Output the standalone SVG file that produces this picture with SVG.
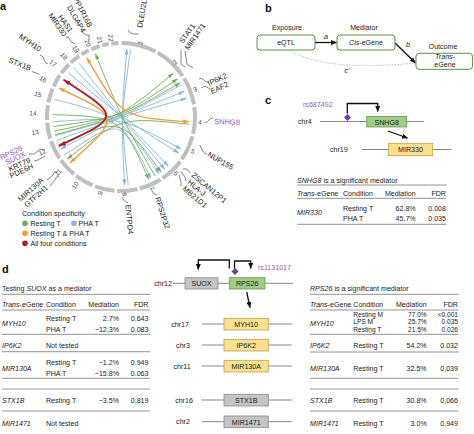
<svg xmlns="http://www.w3.org/2000/svg" width="474" height="434" viewBox="0 0 474 434">
<style>
text{font-family:"Liberation Sans",Arial,sans-serif;fill:#222}
.pl{font-size:11px;font-weight:bold;fill:#111}
.g{font-size:7.5px}
.n{font-size:6.5px;fill:#444;text-anchor:middle;dominant-baseline:central}
.tb{font-size:7.1px}
.sm{font-size:6.6px}
.it{font-style:italic}
.pu{fill:#8a5cc4}
.e{text-anchor:end}
.m{text-anchor:middle}
.ch{fill:none;stroke-linecap:round}
.bl{stroke:#85b7dc;stroke-width:0.9;marker-end:url(#ab)}
.gr{stroke:#6fae57;stroke-width:0.9;marker-end:url(#ag)}
.or{stroke:#f39a35;stroke-width:1.3;marker-end:url(#ao);marker-start:url(#ao)}
.rd{stroke:#b51a20;stroke-width:1.9;marker-end:url(#ar);marker-start:url(#ar)}
.ld{fill:none;stroke:#333;stroke-width:0.6}
.rl{stroke:#888;stroke-width:0.9}
.cl{stroke:#888;stroke-width:1}
.gb{fill:#9fcd84;stroke:#6a9a52;stroke-width:0.8}
.yb{fill:#f8e08e;stroke:#c2a24a;stroke-width:0.8}
.xb{fill:#c4c4c4;stroke:#8a8a8a;stroke-width:0.8}
.wb{fill:#fff;stroke:#5e8f45;stroke-width:1}
.ar{stroke:#111;stroke-width:1.3;fill:none;marker-end:url(#ak)}
</style>
<defs>
<marker id="ab" viewBox="0 0 6 4" refX="5.5" refY="2" markerWidth="6" markerHeight="4" markerUnits="userSpaceOnUse" orient="auto-start-reverse"><path d="M0,0L6,2L0,4z" fill="#85b7dc"/></marker>
<marker id="ag" viewBox="0 0 6 4" refX="5.5" refY="2" markerWidth="6" markerHeight="4" markerUnits="userSpaceOnUse" orient="auto-start-reverse"><path d="M0,0L6,2L0,4z" fill="#6fae57"/></marker>
<marker id="ao" viewBox="0 0 6 4" refX="5.5" refY="2" markerWidth="6" markerHeight="4.5" markerUnits="userSpaceOnUse" orient="auto-start-reverse"><path d="M0,0L6,2L0,4z" fill="#f39a35"/></marker>
<marker id="ar" viewBox="0 0 6 4" refX="5.5" refY="2" markerWidth="7" markerHeight="5" markerUnits="userSpaceOnUse" orient="auto-start-reverse"><path d="M0,0L6,2L0,4z" fill="#b51a20"/></marker>
<marker id="ak" viewBox="0 0 6 5" refX="5.5" refY="2.5" markerWidth="6" markerHeight="5" markerUnits="userSpaceOnUse" orient="auto"><path d="M0,0L6,2.5L0,5z" fill="#111"/></marker>
</defs>

<!-- Panel letters -->
<text class="pl" x="0" y="10">a</text>
<text class="pl" x="265" y="12">b</text>
<text class="pl" x="265" y="103.5">c</text>
<text class="pl" x="2" y="273">d</text>

<!-- ===== Panel a: circos ===== -->
<g id="ring">
<circle cx="121" cy="117" r="74" fill="none" stroke="#bfbfbf" stroke-width="4" stroke-dasharray="35.19 2.58 34.36 2.58 27.99 2.58 26.99 2.58 25.59 2.58 24.18 2.58 22.47 2.58 20.64 2.58 19.93 2.58 19.23 2.58 19.09 2.58 18.95 2.58 16.26 2.58 15.12 2.58 14.41 2.58 12.72 2.58 11.46 2.58 11.03 2.58 8.34 2.58 8.91 2.58 6.78 2.58 7.21 3.86" stroke-dashoffset="-0.65" transform="rotate(-90 121 117)"/>
</g>
<g id="chrom-numbers">
<text class="n" transform="translate(140,43) rotate(-76)">1</text>
<text class="n" transform="translate(175,62) rotate(-47)">2</text>
<text class="n" transform="translate(195,89) rotate(-21)">3</text>
<text class="n" transform="translate(200,122) rotate(3)">4</text>
<text class="n" transform="translate(193,151) rotate(25)">5</text>
<text class="n" transform="translate(176,173) rotate(46)">6</text>
<text class="n" transform="translate(152,188) rotate(66)">7</text>
<text class="n" transform="translate(125,194) rotate(85)">8</text>
<text class="n" transform="translate(100,193) rotate(-77)">9</text>
<text class="n" transform="translate(75,185) rotate(-60)">10</text>
<text class="n" transform="translate(58,172) rotate(-43)">11</text>
<text class="n" transform="translate(42,152) rotate(-27)">12</text>
<text class="n" transform="translate(35,132) rotate(-11)">13</text>
<text class="n" transform="translate(33,113) rotate(3)">14</text>
<text class="n" transform="translate(38,94) rotate(16)">15</text>
<text class="n" transform="translate(43,79) rotate(29)">16</text>
<text class="n" transform="translate(53,63) rotate(40)">17</text>
<text class="n" transform="translate(64,56) rotate(51)">18</text>
<text class="n" transform="translate(76,49) rotate(60)">19</text>
<text class="n" transform="translate(88,43) rotate(69)">20</text>
<text class="n" transform="translate(100,40) rotate(77)">21</text>
<text class="n" transform="translate(111,38) rotate(85)">22</text>
</g>

<g id="chords">
<path class="ch bl" d="M128.1,184.6C121,117 121,117 126.9,49.3"/>
<path class="ch bl" d="M130.5,49.7C121,117 121,117 124.6,184.9"/>
<path class="ch bl" d="M73.8,68.1C121,117 121,117 164.7,169.1"/>
<path class="ch bl" d="M55.3,99.4C121,117 121,117 159,173.4"/>
<path class="ch bl" d="M55.6,135.7C121,117 121,117 184,91.5"/>
<path class="ch bl" d="M57.1,140.3C121,117 121,117 186.4,98.3"/>
<path class="ch bl" d="M53.2,121.7C121,117 121,117 181,148.9"/>
<path class="ch bl" d="M181,85.1C121,117 121,117 61,148.9"/>
<path class="ch bl" d="M79.1,63.4C121,117 121,117 168.2,165.9"/>
<path class="ch bl" d="M68.9,73.3C121,117 121,117 178.7,153"/>
<path class="ch bl" d="M64.6,155C121,117 121,117 150.8,178.1"/>
<path class="ch gr" d="M54.5,131.1C121,117 121,117 173.1,73.3"/>
<path class="ch gr" d="M53.7,126.5C121,117 121,117 177.4,79"/>
<path class="ch gr" d="M55.3,134.6C121,117 121,117 179.9,83"/>
<path class="ch gr" d="M155,175.9C121,117 121,117 95.5,54"/>
<path class="ch gr" d="M58.9,144.7C121,117 121,117 161,172"/>
<path class="ch gr" d="M188.6,124.1C121,117 121,117 67.4,158.9"/>
<path class="ch gr" d="M53,114.6C121,117 121,117 148.7,179.1"/>
<path class="ch or" d="M188.8,121.7C121,117 121,117 87,58.1"/>
<path class="ch or" d="M70.5,162.5C121,117 121,117 59.4,88.3"/>
<path class="ch rd" d="M59.4,145.7C121,117 121,117 64,80"/>
</g>

<g id="gene-labels">
<path class="ld" d="M128,30Q130,34 133,34L139,34"/>
<text class="g" transform="translate(142,28) rotate(-80)">DLEU2L</text>
<path class="ld" d="M181,50L181,64L185,67"/>
<path class="ld" d="M185,51L187,64L193,68"/>
<text class="g" transform="translate(183,44) rotate(-55)">STAT1</text>
<text class="g" transform="translate(188.5,50.5) rotate(-55)">MIR1471</text>
<path class="ld" d="M199,79Q201,77 204,80Q206,83 209,82"/>
<path class="ld" d="M201,88L205,86L210,89"/>
<text class="g" transform="translate(209,86) rotate(-25)">IP6K2</text>
<text class="g" transform="translate(212,94) rotate(-25)">EAF2</text>
<path class="ld" d="M205,123Q208,122 209,120Q210,118 213,118"/>
<text class="g pu" transform="translate(214,124) rotate(2)">SNHG8</text>
<path class="ld" d="M200,145Q203,154 207,154"/>
<text class="g" transform="translate(207,156) rotate(30)">NUP155</text>
<path class="ld" d="M183,169Q188,168 190,173"/>
<path class="ld" d="M181,172L185,177L186,181"/>
<path class="ld" d="M179,175L181,182L181,186"/>
<text class="g" transform="translate(191,176) rotate(40)">ZSCAN12P1</text>
<text class="g" transform="translate(187,183) rotate(40)">HLA-J</text>
<text class="g" transform="translate(182,189.5) rotate(40)">MB21D1</text>
<path class="ld" d="M151,189Q153,195 157,195"/>
<text class="g" transform="translate(155,198) rotate(72)">RPS2P32</text>
<path class="ld" d="M122,197Q124,202 128,203"/>
<text class="g" transform="translate(125.5,205) rotate(85)">ENTPD4</text>
<path class="ld" d="M58,172Q54,171 53,175L47,180"/>
<path class="ld" d="M59,176Q56,176 55,180L50,186"/>
<text class="g e" transform="translate(44,181) rotate(-42)">MIR130A</text>
<text class="g e" transform="translate(48.5,188.5) rotate(-42)">GTF2H1</text>
<path class="ld" d="M44,150Q39,148 37,152Q35,155 29,154"/>
<path class="ld" d="M45,156L38,160L34,161"/>
<text class="g e pu" transform="translate(23,150) rotate(-25)">RPS26</text>
<text class="g e pu" transform="translate(26,156) rotate(-25)">SUOX</text>
<text class="g e" transform="translate(31,162) rotate(-25)">KRT79</text>
<text class="g e" transform="translate(34,168) rotate(-25)">PDE6H</text>
<path class="ld" d="M32,71.5L39.5,74.5"/>
<text class="g e" transform="translate(30,71) rotate(22)">STX1B</text>
<path class="ld" d="M40,55Q44,56 44,60Q45,63 48,64"/>
<text class="g e" transform="translate(39,52) rotate(35)">MYH10</text>
<path class="ld" d="M66,37Q70,37 70,40Q71,43 75,44"/>
<path class="ld" d="M82,32L86,35L89,35L89,40"/>
<text class="g e" transform="translate(63,37) rotate(55)">MIR330</text>
<text class="g e" transform="translate(69,33) rotate(55)">HAS1</text>
<text class="g e" transform="translate(81.5,33) rotate(60)">DLGAP4</text>
<text class="g e" transform="translate(88,28) rotate(63)">PPP1R16B</text>
</g>

<g id="legend">
<text class="tb" x="22" y="215.5">Condition specificity</text>
<circle cx="25" cy="223.3" r="2.8" fill="#6fae57"/>
<text class="tb" x="30.5" y="226">Resting T</text>
<circle cx="74" cy="223.3" r="2.8" fill="#85b7dc"/>
<text class="tb" x="78.5" y="226">PHA T</text>
<circle cx="25" cy="233.3" r="2.8" fill="#f39a35"/>
<text class="tb" x="30.5" y="236">Resting T &amp; PHA T</text>
<circle cx="25" cy="243.3" r="2.8" fill="#b51a20"/>
<text class="tb" x="30.5" y="246">All four conditions</text>
</g>

<!-- ===== Panel b ===== -->
<g id="b-connectors">
<path d="M289,50Q325,72 415,63" fill="none" stroke="#aaa" stroke-width="0.8" stroke-dasharray="1.5 1.5"/>
<line class="ar" x1="315" y1="42.5" x2="336.5" y2="42.5"/>
<line class="ar" x1="395" y1="43" x2="415.5" y2="63"/>
<text class="tb it m" x="326" y="38.5">a</text>
<text class="tb it m" x="408" y="47">b</text>
<text class="tb it m" x="347" y="73">c'</text>
</g>
<g id="b-exposure">
<text class="tb m" x="287" y="29.5">Exposure</text>
<rect class="wb" x="257" y="35" width="58" height="15" rx="3"/>
<text class="tb m" x="286" y="45.3">eQTL</text>
</g>
<g id="b-mediator">
<text class="tb m" x="364" y="29.5">Mediator</text>
<rect class="wb" x="337" y="35" width="58" height="15" rx="3"/>
<text class="tb m" x="366" y="45.3"><tspan class="it">Cis</tspan>-eGene</text>
</g>
<g id="b-outcome">
<text class="tb m" x="443" y="48.5">Outcome</text>
<rect class="wb" x="416" y="53.3" width="56.5" height="16" rx="3"/>
<text class="tb m it" x="445" y="58.8">Trans-</text>
<text class="tb m" x="445" y="66.6">eGene</text>
</g>

<!-- ===== Panel c ===== -->
<g id="c-chr4">
<text class="tb pu" x="303" y="107">rs687492</text>
<text class="tb" x="298" y="123.5">chr4</text>
<line class="cl" x1="320" y1="121.5" x2="424" y2="121.5"/>
<rect class="gb" x="366.7" y="116.5" width="40" height="10.5"/>
<text class="tb m" x="386.7" y="124.5">SNHG8</text>
<path d="M347.5,114L351,117.5L347.5,121L344,117.5z" fill="#6b3fa0"/>
</g>
<g id="c-chr19">
<text class="tb" x="330" y="152">chr19</text>
<line class="cl" x1="361.7" y1="149.5" x2="451.7" y2="149.5"/>
<rect class="yb" x="388.3" y="143.3" width="44.4" height="12.4"/>
<text class="tb m" x="410.5" y="152.3">MIR330</text>
</g>
<g id="c-connectors">
<path class="ar" d="M347.3,113.5V103.5H377.7V111.5"/>
<line class="ar" x1="388" y1="131" x2="407.5" y2="138"/>
</g>
<g id="c-table">
<text class="tb" x="297" y="182.5"><tspan class="it">SNHG8</tspan> is a significant mediator</text>
<line class="rl" x1="297" y1="185" x2="446.5" y2="185"/>
<text class="tb" x="297" y="195.5"><tspan class="it">Trans</tspan>-eGene</text>
<text class="tb" x="343" y="195.5">Condition</text>
<text class="tb e" x="415.7" y="195.5">Mediation</text>
<text class="tb e" x="446" y="195.5">FDR</text>
<line class="rl" x1="297" y1="198.3" x2="446.5" y2="198.3"/>
<text class="tb it" x="297" y="215">MIR330</text>
<text class="tb" x="343" y="210.5">Resting T</text>
<text class="tb" x="343" y="221">PHA T</text>
<text class="tb e" x="415.7" y="210.5">62.8%</text>
<text class="tb e" x="446" y="210.5">0.008</text>
<text class="tb e" x="415.7" y="221">45.7%</text>
<text class="tb e" x="446" y="221">0.035</text>
<line class="rl" x1="297" y1="224.3" x2="446.5" y2="224.3"/>
</g>

<!-- ===== Panel d: left table ===== -->
<g id="d-left-table">
<text class="tb" x="2" y="290.5">Testing <tspan class="it">SUOX</tspan> as a mediator</text>
<line class="rl" x1="2" y1="294.3" x2="150" y2="294.3"/>
<text class="tb" x="2" y="307"><tspan class="it">Trans</tspan>-eGene</text>
<text class="tb" x="46" y="307">Condition</text>
<text class="tb e" x="119" y="307">Mediation</text>
<text class="tb e" x="148.5" y="307">FDR</text>
<line class="rl" x1="2" y1="310" x2="150" y2="310"/>
<text class="tb it" x="2" y="326">MYH10</text>
<text class="tb" x="46" y="320.5">Resting T</text>
<text class="tb" x="46" y="331.5">PHA T</text>
<text class="tb e" x="119" y="320.5">2.7%</text>
<text class="tb e" x="148.5" y="320.5">0.643</text>
<text class="tb e" x="119" y="331.5">−12.3%</text>
<text class="tb e" x="148.5" y="331.5">0.083</text>
<line class="rl" x1="2" y1="334.3" x2="150" y2="334.3"/>
<text class="tb it" x="2" y="348">IP6K2</text>
<text class="tb" x="46" y="348">Not tested</text>
<line class="rl" x1="2" y1="351.7" x2="150" y2="351.7"/>
<text class="tb it" x="2" y="371">MIR130A</text>
<text class="tb" x="46" y="365">Resting T</text>
<text class="tb" x="46" y="376">PHA T</text>
<text class="tb e" x="119" y="365">−1.2%</text>
<text class="tb e" x="148.5" y="365">0.949</text>
<text class="tb e" x="119" y="376">−15.8%</text>
<text class="tb e" x="148.5" y="376">0.063</text>
<line class="rl" x1="2" y1="378.3" x2="150" y2="378.3"/>
<line class="rl" x1="2" y1="389" x2="150" y2="389"/>
<text class="tb it" x="2" y="403">STX1B</text>
<text class="tb" x="46" y="403">Resting T</text>
<text class="tb e" x="119" y="403">−3.5%</text>
<text class="tb e" x="148.5" y="403">0.819</text>
<line class="rl" x1="2" y1="411" x2="150" y2="411"/>
<text class="tb it" x="2" y="426">MIR1471</text>
<text class="tb" x="46" y="426">Not tested</text>
</g>

<!-- ===== Panel d: middle ===== -->
<g id="d-chr12">
<text class="tb e" x="172" y="286">chr12</text>
<line class="cl" x1="173" y1="283.3" x2="293" y2="283.3"/>
<rect class="xb" x="185" y="277.7" width="33" height="11.3"/>
<text class="tb m" x="201.5" y="286.2">SUOX</text>
<rect class="gb" x="229.3" y="277.7" width="35.7" height="11.3"/>
<text class="tb m" x="247.2" y="286.2">RPS26</text>
<path d="M235,268L238.5,271.5L235,275L231.5,271.5z" fill="#6b3fa0"/>
<text class="tb pu" x="258" y="270">rs1131017</text>
</g>
<g id="d-connectors">
<path class="ar" d="M229.3,268.5V260H198.3V269.5"/>
<path class="ar" d="M234.5,268.5V261H250.7V268.5"/>
<line class="ar" x1="246.7" y1="292" x2="250" y2="307.5"/>
</g>
<g id="d-chr17">
<text class="tb m" x="180" y="326.7">chr17</text>
<line class="cl" x1="201.7" y1="324" x2="291.7" y2="324"/>
<rect class="yb" x="224" y="318.3" width="44.3" height="11.7"/>
<text class="tb m" x="246.2" y="326.8">MYH10</text>
</g>
<g id="d-chr3">
<text class="tb m" x="183" y="347.7">chr3</text>
<line class="cl" x1="201.7" y1="345" x2="291.7" y2="345"/>
<rect class="yb" x="224" y="339.3" width="44.3" height="11.7"/>
<text class="tb m" x="246.2" y="347.8">IP6K2</text>
</g>
<g id="d-chr11">
<text class="tb m" x="182" y="368.7">chr11</text>
<line class="cl" x1="201.7" y1="366" x2="291.7" y2="366"/>
<rect class="yb" x="224" y="360.3" width="44.3" height="11.7"/>
<text class="tb m" x="246.2" y="368.8">MIR130A</text>
</g>
<g id="d-chr16">
<text class="tb m" x="184" y="402.7">chr16</text>
<line class="cl" x1="201.7" y1="400" x2="291.7" y2="400"/>
<rect class="xb" x="224" y="394.3" width="44.3" height="11.7"/>
<text class="tb m" x="246.2" y="402.8">STX1B</text>
</g>
<g id="d-chr2">
<text class="tb m" x="183" y="424.4">chr2</text>
<line class="cl" x1="201.7" y1="421.7" x2="291.7" y2="421.7"/>
<rect class="xb" x="224" y="416" width="44.3" height="11.7"/>
<text class="tb m" x="246.2" y="424.5">MIR1471</text>
</g>

<!-- ===== Panel d: right table ===== -->
<g id="d-right-table">
<text class="tb" x="310" y="290.5"><tspan class="it">RPS26</tspan> is a significant mediator</text>
<line class="rl" x1="310" y1="294.3" x2="458.5" y2="294.3"/>
<text class="tb" x="310" y="307"><tspan class="it">Trans</tspan>-eGene</text>
<text class="tb" x="353.3" y="307">Condition</text>
<text class="tb e" x="426.7" y="307">Mediation</text>
<text class="tb e" x="458" y="307">FDR</text>
<line class="rl" x1="310" y1="310" x2="458.5" y2="310"/>
<text class="tb it" x="310" y="326">MYH10</text>
<text class="sm" x="353.3" y="316.6">Resting M</text>
<text class="sm" x="353.3" y="324.2">LPS M</text>
<text class="sm" x="353.3" y="331.8">Resting T</text>
<text class="sm e" x="426.7" y="316.6">77.0%</text>
<text class="sm e" x="458" y="316.6">&lt;0.001</text>
<text class="sm e" x="426.7" y="324.2">25.7%</text>
<text class="sm e" x="458" y="324.2">0.035</text>
<text class="sm e" x="426.7" y="331.8">21.5%</text>
<text class="sm e" x="458" y="331.8">0.026</text>
<line class="rl" x1="310" y1="334.3" x2="458.5" y2="334.3"/>
<text class="tb it" x="310" y="348">IP6K2</text>
<text class="tb" x="353.3" y="348">Resting T</text>
<text class="tb e" x="426.7" y="348">54.2%</text>
<text class="tb e" x="458" y="348">0.032</text>
<line class="rl" x1="310" y1="352" x2="458.5" y2="352"/>
<text class="tb it" x="310" y="371">MIR130A</text>
<text class="tb" x="353.3" y="371">Resting T</text>
<text class="tb e" x="426.7" y="371">32.5%</text>
<text class="tb e" x="458" y="371">0.039</text>
<line class="rl" x1="310" y1="378.3" x2="458.5" y2="378.3"/>
<line class="rl" x1="310" y1="389" x2="458.5" y2="389"/>
<text class="tb it" x="310" y="403">STX1B</text>
<text class="tb" x="353.3" y="403">Resting T</text>
<text class="tb e" x="426.7" y="403">30.8%</text>
<text class="tb e" x="458" y="403">0.066</text>
<line class="rl" x1="310" y1="411" x2="458.5" y2="411"/>
<text class="tb it" x="310" y="426">MIR1471</text>
<text class="tb" x="353.3" y="426">Resting T</text>
<text class="tb e" x="426.7" y="426">3.0%</text>
<text class="tb e" x="458" y="426">0.949</text>
</g>
</svg>
